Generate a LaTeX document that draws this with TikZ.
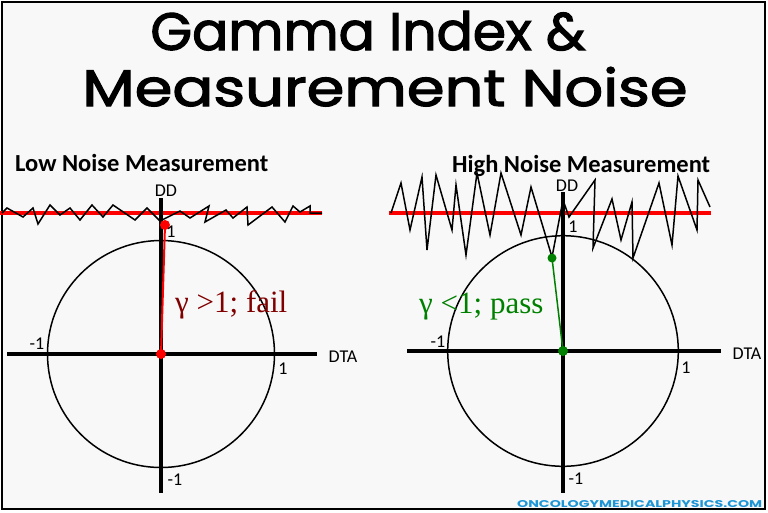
\documentclass[tikz,border=0pt]{standalone}
\usepackage{xcolor}
\usepackage{graphicx}
\usepackage{fontspec}
\setmainfont{Carlito}
\newfontfamily\titlefont{Poppins}
\newfontfamily\titleheavy[FakeBold=2.2]{Poppins}
\newfontfamily\gammafont{Liberation Serif}
\definecolor{paper}{RGB}{248,248,248}
\definecolor{failred}{RGB}{128,0,0}
\definecolor{passgreen}{RGB}{0,128,0}
\definecolor{webblue}{RGB}{28,150,215}

\begin{document}
\begin{tikzpicture}[x=1pt,y=-1pt,
  axis/.style={line width=3.5pt},
  ring/.style={line width=1.5pt},
  noise/.style={line width=1.5pt},
  level/.style={red, line width=4pt},
  lbl/.style={font=\fontsize{18}{18}\selectfont, inner sep=0pt},
  head/.style={font=\fontsize{24.5}{26}\selectfont\bfseries, inner sep=0pt, anchor=base west},
  verdict/.style={font=\gammafont\fontsize{31}{31}\selectfont, inner sep=0pt, anchor=base west},
  dot/.style={circle, inner sep=0pt, minimum size=10pt}]
\useasboundingbox (0,0) rectangle (768,512);
\fill[white] (0,0) rectangle (768,512);
\draw[fill=paper, line width=2pt] (2,1.5) rectangle (765,509);

% title
\node[anchor=base, inner sep=0pt] (title1) at (368,50)
  {\resizebox{435pt}{39pt}{\titleheavy Gamma Index \&}};
\node[anchor=base, inner sep=0pt] (title2) at (385,106)
  {\resizebox{605pt}{39pt}{\titleheavy Measurement Noise}};
\node[head] (low) at (15,171) {Low Noise Measurement};
\node[head] (high) at (452,172) {High Noise Measurement};

% low noise
\coordinate (o1) at (161,354);
\coordinate (top1) at (161,198);
\coordinate (bot1) at (161,493);
\coordinate (lft1) at (7,354);
\coordinate (rgt1) at (317,354);
\coordinate (p1) at (165,225);
\draw[ring] (o1) circle (113.5);
\draw[level] (0,213) -- (322,213);
\draw[noise] (2,213) -- (7,208) -- (23,217) -- (33,208) -- (38,224) -- (50,205)
  -- (60,215) -- (70,208) -- (80,220) -- (92,205) -- (103,217) -- (113,205)
  -- (135,220) -- (147,208) -- (160,221) -- (180,211) -- (190,218) -- (209,206)
  -- (205,222) -- (226,210) -- (233,218) -- (247,207) -- (248,225) -- (272,207)
  -- (285,222) -- (293,206) -- (300,212) -- (310,206) -- (310,213) -- (322,213);
\draw[axis] (top1) -- (bot1);
\draw[axis] (lft1) -- (rgt1);
\draw[red, line width=2pt] (o1) -- (p1);
\node[dot, fill=red] (d1) at (o1) {};
\node[dot, fill=red] (e1) at (p1) {};
\node[lbl] (dd1) at (166,191) {DD};
\node[lbl] (up1) at (171,232) {1};
\node[lbl] (mx1) at (37,344) {-1};
\node[lbl] (px1) at (283,369) {1};
\node[lbl] (dta1) at (343,357) {DTA};
\node[lbl] (my1) at (175,480) {-1};
\node[verdict, text=failred] (fail) at (175,312) {γ >1; fail};

% high noise
\coordinate (o2) at (563,351);
\coordinate (top2) at (563,192);
\coordinate (bot2) at (563,493);
\coordinate (lft2) at (407,351);
\coordinate (rgt2) at (721,351);
\coordinate (p2) at (552,258);
\draw[ring] (o2) circle (115.3);
\draw[level] (389,213) -- (711,213);
\draw[noise] (391,213) -- (401,183) -- (410,230) -- (422,177) -- (427,250) -- (436,175)
  -- (452,230) -- (456,185) -- (466,255) -- (477,173) -- (490,235) -- (501,173)
  -- (521,235) -- (531,187) -- (552,257) -- (563,200) -- (569,217) -- (595,180)
  -- (593,248) -- (612,199) -- (621,240) -- (632,202) -- (633,258) -- (659,183)
  -- (672,245) -- (678,176) -- (697,230) -- (698,180) -- (710,207);
\draw[axis] (top2) -- (bot2);
\draw[axis] (lft2) -- (rgt2);
\draw[passgreen, line width=1.5pt] (o2) -- (p2);
\node[dot, fill=passgreen] (d2) at (o2) {};
\node[dot, fill=passgreen, minimum size=9pt] (e2) at (p2) {};
\node[lbl] (dd2) at (567,186) {DD};
\node[lbl] (up2) at (573,227) {1};
\node[lbl] (mx2) at (438,342) {-1};
\node[lbl] (px2) at (686,368) {1};
\node[lbl] (dta2) at (747,354) {DTA};
\node[lbl] (my2) at (576,479) {-1};
\node[verdict, text=passgreen] (pass) at (419,313) {γ <1; pass};

% site
\node[anchor=base west, inner sep=0pt, text=webblue] (site) at (517,507)
  {\resizebox{245pt}{7pt}{\titlefont\bfseries ONCOLOGYMEDICALPHYSICS.COM}};
\end{tikzpicture}
\end{document}
